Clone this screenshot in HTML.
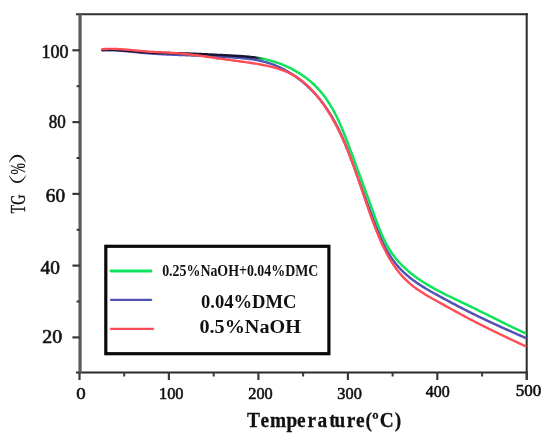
<!DOCTYPE html>
<html><head><meta charset="utf-8">
<style>
html,body{margin:0;padding:0;background:#fff;}
body{width:550px;height:438px;overflow:hidden;position:relative;}
svg{position:absolute;left:0;top:0;filter:blur(0.35px);}
.t{font-family:"Liberation Serif","Times New Roman",serif;fill:#111;}
.n{stroke:#111;stroke-width:0.6px;}
.m{stroke:#111;stroke-width:0.3px;}
</style></head><body>
<svg width="550" height="438" viewBox="0 0 550 438">
<defs>
<linearGradient id="gg" gradientUnits="userSpaceOnUse" x1="100" y1="0" x2="526" y2="0">
<stop offset="0" stop-color="#161634"/>
<stop offset="0.364" stop-color="#161634"/>
<stop offset="0.385" stop-color="#0ee35a"/>
<stop offset="1" stop-color="#0ee35a"/>
</linearGradient>
</defs>
<line x1="76" y1="14.3" x2="527.7" y2="14.3" stroke="#2e2e2e" stroke-width="2"/>
<line x1="526.7" y1="13.3" x2="526.7" y2="380" stroke="#2a2a2a" stroke-width="2"/>
<line x1="76" y1="372.6" x2="527.7" y2="372.6" stroke="#2a2a2a" stroke-width="2"/>
<line x1="80.05" y1="13.3" x2="80.05" y2="373.4" stroke="#5a5a5a" stroke-width="3.2"/>
<line x1="72.4" y1="50.3" x2="80" y2="50.3" stroke="#3a3a3a" stroke-width="2.2"/>
<line x1="72.4" y1="122.1" x2="80" y2="122.1" stroke="#3a3a3a" stroke-width="2.2"/>
<line x1="72.4" y1="193.9" x2="80" y2="193.9" stroke="#3a3a3a" stroke-width="2.2"/>
<line x1="72.4" y1="265.6" x2="80" y2="265.6" stroke="#3a3a3a" stroke-width="2.2"/>
<line x1="72.4" y1="337.4" x2="80" y2="337.4" stroke="#3a3a3a" stroke-width="2.2"/>
<line x1="76.5" y1="86.2" x2="80" y2="86.2" stroke="#3a3a3a" stroke-width="2"/>
<line x1="76.5" y1="158.0" x2="80" y2="158.0" stroke="#3a3a3a" stroke-width="2"/>
<line x1="76.5" y1="229.8" x2="80" y2="229.8" stroke="#3a3a3a" stroke-width="2"/>
<line x1="76.5" y1="301.5" x2="80" y2="301.5" stroke="#3a3a3a" stroke-width="2"/>
<line x1="79.5" y1="372.6" x2="79.5" y2="380" stroke="#3a3a3a" stroke-width="2.2"/>
<line x1="168.9" y1="372.6" x2="168.9" y2="380" stroke="#3a3a3a" stroke-width="2.2"/>
<line x1="258.4" y1="372.6" x2="258.4" y2="380" stroke="#3a3a3a" stroke-width="2.2"/>
<line x1="347.9" y1="372.6" x2="347.9" y2="380" stroke="#3a3a3a" stroke-width="2.2"/>
<line x1="437.3" y1="372.6" x2="437.3" y2="380" stroke="#3a3a3a" stroke-width="2.2"/>
<line x1="526.8" y1="372.6" x2="526.8" y2="380" stroke="#3a3a3a" stroke-width="2.2"/>
<line x1="124.2" y1="372.6" x2="124.2" y2="376.5" stroke="#3a3a3a" stroke-width="2"/>
<line x1="213.7" y1="372.6" x2="213.7" y2="376.5" stroke="#3a3a3a" stroke-width="2"/>
<line x1="303.1" y1="372.6" x2="303.1" y2="376.5" stroke="#3a3a3a" stroke-width="2"/>
<line x1="392.6" y1="372.6" x2="392.6" y2="376.5" stroke="#3a3a3a" stroke-width="2"/>
<line x1="482.1" y1="372.6" x2="482.1" y2="376.5" stroke="#3a3a3a" stroke-width="2"/>
<path d="M102.50,50.31 L104.00,50.25 L105.50,50.20 L107.00,50.18 L108.50,50.17 L110.00,50.18 L111.50,50.20 L112.99,50.25 L114.49,50.30 L115.98,50.37 L117.48,50.45 L118.97,50.55 L120.47,50.65 L121.96,50.76 L123.45,50.89 L124.94,51.01 L126.44,51.15 L127.93,51.29 L129.42,51.44 L130.91,51.59 L132.40,51.74 L133.89,51.90 L135.39,52.05 L136.88,52.21 L138.37,52.36 L139.86,52.51 L141.36,52.66 L142.85,52.81 L144.34,52.95 L145.84,53.08 L147.33,53.21 L148.83,53.33 L150.33,53.44 L151.82,53.55 L153.32,53.66 L154.82,53.75 L156.32,53.85 L157.81,53.93 L159.31,54.02 L160.81,54.10 L162.31,54.17 L163.81,54.25 L165.31,54.32 L166.80,54.38 L168.30,54.45 L169.80,54.51 L171.30,54.57 L172.79,54.64 L174.29,54.70 L175.78,54.76 L177.28,54.82 L178.77,54.88 L180.26,54.93 L181.76,54.99 L183.25,55.06 L184.74,55.12 L186.23,55.18 L187.72,55.24 L189.22,55.30 L190.71,55.36 L192.20,55.42 L193.69,55.49 L195.18,55.55 L196.67,55.61 L198.16,55.68 L199.66,55.74 L201.15,55.81 L202.64,55.87 L204.14,55.94 L205.63,56.01 L207.12,56.08 L208.62,56.15 L210.12,56.22 L211.61,56.29 L213.11,56.37 L214.61,56.44 L216.11,56.52 L217.61,56.59 L219.12,56.67 L220.62,56.75 L222.13,56.83 L223.63,56.91 L225.14,57.00 L226.65,57.08 L228.16,57.17 L229.68,57.25 L231.19,57.34 L232.71,57.44 L234.22,57.53 L235.74,57.64 L237.26,57.74 L238.78,57.86 L240.29,57.98 L241.81,58.11 L243.32,58.25 L244.83,58.40 L246.34,58.56 L247.84,58.74 L249.34,58.92 L250.84,59.12 L252.33,59.34 L253.82,59.57 L255.30,59.82 L256.78,60.09 L258.25,60.37 L259.71,60.68 L261.17,61.01 L262.62,61.35 L264.07,61.72 L265.50,62.12 L266.93,62.53 L268.35,62.97 L269.76,63.43 L271.16,63.91 L272.55,64.42 L273.93,64.94 L275.31,65.49 L276.68,66.06 L278.03,66.65 L279.38,67.25 L280.72,67.88 L282.05,68.53 L283.37,69.20 L284.68,69.89 L285.98,70.59 L287.27,71.32 L288.55,72.06 L289.82,72.82 L291.08,73.60 L292.33,74.40 L293.57,75.21 L294.80,76.04 L296.02,76.89 L297.22,77.76 L298.42,78.64 L299.60,79.53 L300.78,80.45 L301.94,81.38 L303.09,82.32 L304.23,83.28 L305.35,84.25 L306.47,85.24 L307.57,86.24 L308.66,87.26 L309.74,88.29 L310.81,89.33 L311.86,90.39 L312.91,91.46 L313.93,92.54 L314.95,93.64 L315.95,94.74 L316.94,95.86 L317.92,96.99 L318.88,98.13 L319.83,99.29 L320.77,100.45 L321.69,101.62 L322.60,102.81 L323.50,104.00 L324.38,105.20 L325.25,106.42 L326.10,107.64 L326.94,108.87 L327.77,110.11 L328.58,111.36 L329.39,112.62 L330.18,113.88 L330.95,115.16 L331.72,116.44 L332.47,117.73 L333.22,119.02 L333.95,120.32 L334.67,121.63 L335.38,122.95 L336.08,124.27 L336.77,125.60 L337.45,126.94 L338.12,128.28 L338.79,129.62 L339.44,130.98 L340.08,132.33 L340.72,133.69 L341.35,135.06 L341.97,136.43 L342.58,137.81 L343.19,139.18 L343.79,140.57 L344.38,141.95 L344.97,143.34 L345.55,144.74 L346.12,146.13 L346.69,147.53 L347.25,148.93 L347.81,150.33 L348.37,151.74 L348.91,153.15 L349.46,154.56 L350.00,155.97 L350.54,157.38 L351.07,158.79 L351.60,160.20 L352.13,161.62 L352.65,163.03 L353.17,164.44 L353.69,165.86 L354.21,167.27 L354.72,168.68 L355.24,170.10 L355.75,171.51 L356.26,172.92 L356.78,174.33 L357.29,175.74 L357.80,177.15 L358.30,178.56 L358.81,179.97 L359.32,181.37 L359.83,182.78 L360.33,184.19 L360.84,185.59 L361.35,187.00 L361.85,188.40 L362.36,189.81 L362.87,191.21 L363.37,192.62 L363.88,194.02 L364.39,195.42 L364.90,196.83 L365.41,198.23 L365.92,199.63 L366.44,201.03 L366.95,202.43 L367.47,203.83 L367.99,205.23 L368.50,206.63 L369.03,208.03 L369.55,209.43 L370.07,210.83 L370.60,212.23 L371.13,213.62 L371.66,215.02 L372.20,216.42 L372.73,217.81 L373.27,219.21 L373.82,220.61 L374.36,222.00 L374.91,223.40 L375.46,224.79 L376.02,226.19 L376.58,227.58 L377.14,228.98 L377.71,230.37 L378.28,231.77 L378.85,233.16 L379.43,234.55 L380.01,235.95 L380.60,237.33 L381.20,238.72 L381.81,240.10 L382.43,241.48 L383.05,242.85 L383.69,244.21 L384.34,245.56 L385.01,246.91 L385.69,248.24 L386.39,249.57 L387.10,250.88 L387.83,252.18 L388.58,253.46 L389.35,254.73 L390.14,255.99 L390.95,257.23 L391.78,258.45 L392.64,259.66 L393.51,260.85 L394.40,262.02 L395.32,263.18 L396.25,264.32 L397.20,265.45 L398.17,266.56 L399.16,267.65 L400.17,268.73 L401.19,269.80 L402.23,270.84 L403.29,271.88 L404.37,272.89 L405.46,273.89 L406.57,274.88 L407.69,275.85 L408.83,276.80 L409.98,277.74 L411.15,278.66 L412.33,279.57 L413.53,280.47 L414.74,281.35 L415.96,282.21 L417.19,283.06 L418.44,283.90 L419.69,284.73 L420.95,285.55 L422.23,286.35 L423.51,287.15 L424.80,287.94 L426.09,288.72 L427.39,289.48 L428.70,290.25 L430.01,291.00 L431.33,291.75 L432.65,292.50 L433.97,293.23 L435.29,293.97 L436.62,294.70 L437.95,295.42 L439.27,296.15 L440.60,296.87 L441.92,297.59 L443.25,298.31 L444.57,299.03 L445.90,299.74 L447.22,300.45 L448.54,301.17 L449.87,301.87 L451.19,302.58 L452.51,303.28 L453.84,303.98 L455.16,304.68 L456.48,305.38 L457.81,306.07 L459.13,306.76 L460.46,307.45 L461.79,308.14 L463.11,308.82 L464.44,309.50 L465.77,310.18 L467.11,310.86 L468.44,311.53 L469.77,312.20 L471.11,312.86 L472.45,313.53 L473.79,314.19 L475.13,314.85 L476.47,315.50 L477.81,316.15 L479.16,316.80 L480.50,317.45 L481.85,318.10 L483.20,318.74 L484.55,319.38 L485.90,320.02 L487.25,320.66 L488.61,321.29 L489.96,321.92 L491.32,322.55 L492.68,323.18 L494.04,323.81 L495.40,324.44 L496.76,325.06 L498.12,325.68 L499.48,326.30 L500.85,326.92 L502.21,327.54 L503.58,328.16 L504.95,328.78 L506.31,329.39 L507.68,330.01 L509.05,330.62 L510.42,331.23 L511.80,331.84 L513.17,332.45 L514.54,333.06 L515.92,333.67 L517.29,334.28 L518.67,334.89 L520.05,335.50 L521.42,336.11 L522.80,336.72 L524.18,337.33 L525.56,337.94" fill="none" stroke="#5252b6" stroke-width="2.5" stroke-linecap="round"/>
<path d="M102.50,49.96 L104.00,49.88 L105.50,49.82 L107.00,49.78 L108.49,49.77 L109.99,49.77 L111.48,49.78 L112.98,49.82 L114.47,49.86 L115.96,49.93 L117.46,50.00 L118.95,50.09 L120.44,50.18 L121.93,50.29 L123.43,50.41 L124.92,50.53 L126.41,50.65 L127.90,50.79 L129.39,50.92 L130.89,51.06 L132.38,51.20 L133.87,51.35 L135.36,51.49 L136.86,51.62 L138.35,51.76 L139.84,51.89 L141.33,52.02 L142.83,52.14 L144.32,52.25 L145.82,52.36 L147.31,52.45 L148.81,52.54 L150.31,52.61 L151.80,52.68 L153.30,52.75 L154.80,52.80 L156.30,52.85 L157.80,52.89 L159.29,52.93 L160.79,52.97 L162.29,53.00 L163.79,53.03 L165.29,53.05 L166.79,53.08 L168.28,53.10 L169.78,53.12 L171.28,53.15 L172.77,53.17 L174.27,53.20 L175.77,53.23 L177.26,53.26 L178.76,53.29 L180.25,53.33 L181.74,53.37 L183.24,53.41 L184.73,53.45 L186.22,53.50 L187.71,53.55 L189.20,53.60 L190.70,53.66 L192.19,53.71 L193.68,53.77 L195.17,53.83 L196.66,53.89 L198.15,53.95 L199.64,54.02 L201.14,54.08 L202.63,54.15 L204.12,54.22 L205.61,54.29 L207.11,54.36 L208.60,54.43 L210.10,54.51 L211.59,54.58 L213.09,54.65 L214.58,54.73 L216.08,54.81 L217.58,54.88 L219.07,54.96 L220.57,55.04 L222.07,55.12 L223.57,55.19 L225.08,55.27 L226.58,55.35 L228.08,55.43 L229.59,55.50 L231.10,55.58 L232.60,55.66 L234.11,55.74 L235.62,55.82 L237.13,55.91 L238.64,56.00 L240.15,56.10 L241.65,56.20 L243.16,56.31 L244.67,56.43 L246.17,56.56 L247.68,56.69 L249.18,56.84 L250.68,57.00 L252.18,57.17 L253.67,57.35 L255.17,57.55 L256.66,57.76 L258.14,57.99 L259.63,58.24 L261.11,58.50 L262.58,58.78 L264.06,59.08 L265.52,59.40 L266.99,59.74 L268.45,60.10 L269.90,60.48 L271.35,60.88 L272.79,61.29 L274.23,61.73 L275.65,62.19 L277.08,62.66 L278.49,63.16 L279.90,63.67 L281.30,64.20 L282.69,64.76 L284.07,65.33 L285.45,65.92 L286.81,66.52 L288.17,67.15 L289.52,67.80 L290.85,68.46 L292.18,69.14 L293.49,69.84 L294.79,70.56 L296.09,71.30 L297.37,72.05 L298.63,72.83 L299.89,73.62 L301.13,74.43 L302.36,75.25 L303.58,76.10 L304.78,76.96 L305.97,77.84 L307.15,78.74 L308.31,79.65 L309.45,80.59 L310.58,81.54 L311.69,82.50 L312.79,83.49 L313.87,84.49 L314.94,85.51 L315.99,86.54 L317.02,87.60 L318.03,88.67 L319.02,89.75 L320.00,90.85 L320.96,91.97 L321.90,93.11 L322.82,94.26 L323.73,95.43 L324.62,96.61 L325.49,97.80 L326.35,99.01 L327.19,100.24 L328.01,101.47 L328.82,102.72 L329.62,103.98 L330.40,105.25 L331.17,106.54 L331.92,107.83 L332.66,109.14 L333.39,110.45 L334.11,111.78 L334.81,113.11 L335.50,114.45 L336.18,115.80 L336.86,117.16 L337.52,118.53 L338.17,119.90 L338.81,121.28 L339.44,122.67 L340.06,124.06 L340.68,125.46 L341.29,126.86 L341.89,128.26 L342.48,129.67 L343.06,131.08 L343.64,132.50 L344.21,133.92 L344.78,135.34 L345.34,136.76 L345.90,138.19 L346.45,139.61 L347.00,141.04 L347.54,142.46 L348.08,143.89 L348.62,145.31 L349.15,146.73 L349.68,148.15 L350.21,149.57 L350.74,150.99 L351.27,152.40 L351.80,153.81 L352.32,155.22 L352.84,156.63 L353.36,158.04 L353.89,159.44 L354.40,160.84 L354.92,162.24 L355.44,163.64 L355.96,165.04 L356.47,166.43 L356.98,167.83 L357.50,169.22 L358.01,170.61 L358.52,172.00 L359.03,173.39 L359.54,174.78 L360.05,176.17 L360.56,177.56 L361.07,178.95 L361.58,180.34 L362.09,181.73 L362.60,183.12 L363.10,184.51 L363.61,185.90 L364.12,187.29 L364.63,188.68 L365.13,190.07 L365.64,191.46 L366.15,192.85 L366.66,194.24 L367.16,195.64 L367.67,197.03 L368.18,198.43 L368.69,199.83 L369.20,201.22 L369.71,202.62 L370.22,204.03 L370.73,205.43 L371.24,206.84 L371.75,208.25 L372.27,209.66 L372.78,211.07 L373.30,212.48 L373.81,213.90 L374.33,215.32 L374.85,216.74 L375.37,218.17 L375.89,219.59 L376.42,221.02 L376.95,222.44 L377.48,223.87 L378.02,225.29 L378.57,226.71 L379.13,228.12 L379.69,229.54 L380.26,230.94 L380.85,232.35 L381.44,233.74 L382.04,235.13 L382.66,236.51 L383.28,237.89 L383.93,239.25 L384.58,240.61 L385.25,241.95 L385.94,243.29 L386.64,244.61 L387.36,245.92 L388.09,247.21 L388.85,248.50 L389.62,249.76 L390.42,251.02 L391.23,252.25 L392.07,253.47 L392.93,254.68 L393.80,255.87 L394.70,257.04 L395.62,258.19 L396.56,259.33 L397.51,260.45 L398.49,261.56 L399.48,262.65 L400.49,263.73 L401.51,264.79 L402.55,265.84 L403.61,266.87 L404.68,267.88 L405.77,268.88 L406.87,269.87 L407.99,270.84 L409.11,271.80 L410.26,272.75 L411.41,273.68 L412.57,274.59 L413.75,275.49 L414.94,276.38 L416.13,277.26 L417.34,278.12 L418.56,278.97 L419.79,279.81 L421.02,280.64 L422.27,281.46 L423.52,282.27 L424.79,283.06 L426.06,283.85 L427.34,284.62 L428.62,285.39 L429.91,286.15 L431.21,286.90 L432.52,287.64 L433.83,288.37 L435.15,289.09 L436.47,289.81 L437.80,290.52 L439.13,291.23 L440.47,291.93 L441.81,292.62 L443.16,293.30 L444.51,293.99 L445.86,294.66 L447.21,295.33 L448.57,296.00 L449.93,296.67 L451.29,297.33 L452.66,297.99 L454.02,298.64 L455.38,299.29 L456.75,299.95 L458.11,300.59 L459.48,301.24 L460.84,301.89 L462.21,302.54 L463.57,303.18 L464.93,303.83 L466.29,304.48 L467.65,305.12 L469.00,305.77 L470.36,306.42 L471.70,307.08 L473.05,307.73 L474.40,308.38 L475.74,309.04 L477.08,309.70 L478.42,310.36 L479.75,311.02 L481.09,311.68 L482.42,312.34 L483.75,313.00 L485.09,313.66 L486.42,314.32 L487.75,314.99 L489.07,315.65 L490.40,316.31 L491.73,316.98 L493.06,317.64 L494.39,318.30 L495.72,318.97 L497.05,319.63 L498.38,320.29 L499.71,320.95 L501.05,321.62 L502.38,322.28 L503.72,322.93 L505.06,323.59 L506.39,324.25 L507.74,324.91 L509.08,325.56 L510.42,326.21 L511.77,326.87 L513.12,327.52 L514.48,328.16 L515.83,328.81 L517.19,329.45 L518.56,330.10 L519.93,330.74 L521.30,331.38 L522.67,332.01 L524.05,332.64 L525.43,333.28" fill="none" stroke="url(#gg)" stroke-width="2.5" stroke-linecap="round"/>
<path d="M102.50,49.19 L104.00,49.08 L105.49,48.99 L106.99,48.93 L108.49,48.89 L109.98,48.86 L111.48,48.86 L112.97,48.87 L114.46,48.91 L115.96,48.95 L117.45,49.01 L118.94,49.09 L120.43,49.17 L121.92,49.27 L123.41,49.38 L124.90,49.50 L126.39,49.62 L127.88,49.75 L129.37,49.89 L130.86,50.03 L132.35,50.17 L133.84,50.32 L135.33,50.46 L136.82,50.61 L138.31,50.76 L139.80,50.90 L141.29,51.04 L142.79,51.17 L144.28,51.30 L145.77,51.42 L147.27,51.53 L148.76,51.64 L150.26,51.74 L151.75,51.83 L153.25,51.91 L154.74,52.00 L156.24,52.08 L157.74,52.15 L159.23,52.22 L160.73,52.30 L162.23,52.37 L163.72,52.44 L165.22,52.52 L166.72,52.59 L168.21,52.67 L169.71,52.75 L171.20,52.84 L172.69,52.93 L174.18,53.03 L175.67,53.13 L177.16,53.25 L178.65,53.37 L180.14,53.50 L181.63,53.63 L183.11,53.77 L184.60,53.92 L186.08,54.08 L187.57,54.24 L189.05,54.40 L190.53,54.58 L192.02,54.75 L193.50,54.93 L194.98,55.12 L196.46,55.31 L197.94,55.50 L199.42,55.70 L200.90,55.90 L202.38,56.10 L203.86,56.31 L205.34,56.52 L206.82,56.73 L208.29,56.94 L209.77,57.15 L211.25,57.37 L212.73,57.58 L214.21,57.80 L215.69,58.01 L217.17,58.23 L218.65,58.45 L220.13,58.66 L221.61,58.87 L223.10,59.09 L224.58,59.30 L226.06,59.51 L227.54,59.71 L229.03,59.92 L230.51,60.12 L232.00,60.32 L233.49,60.52 L234.97,60.72 L236.46,60.91 L237.95,61.11 L239.44,61.31 L240.92,61.51 L242.41,61.71 L243.90,61.91 L245.39,62.12 L246.88,62.33 L248.37,62.54 L249.86,62.76 L251.34,62.98 L252.83,63.21 L254.32,63.45 L255.81,63.69 L257.29,63.94 L258.78,64.20 L260.26,64.47 L261.75,64.74 L263.23,65.03 L264.71,65.33 L266.19,65.63 L267.67,65.95 L269.15,66.29 L270.62,66.64 L272.09,67.00 L273.55,67.38 L275.00,67.77 L276.45,68.19 L277.88,68.62 L279.31,69.07 L280.73,69.54 L282.14,70.03 L283.54,70.55 L284.92,71.09 L286.29,71.65 L287.65,72.24 L288.99,72.85 L290.32,73.49 L291.63,74.16 L292.92,74.86 L294.19,75.59 L295.45,76.34 L296.69,77.13 L297.91,77.94 L299.12,78.77 L300.31,79.63 L301.48,80.52 L302.63,81.43 L303.77,82.36 L304.90,83.31 L306.00,84.29 L307.10,85.29 L308.18,86.30 L309.24,87.34 L310.29,88.39 L311.32,89.46 L312.34,90.55 L313.34,91.65 L314.34,92.77 L315.31,93.90 L316.28,95.05 L317.23,96.21 L318.17,97.38 L319.10,98.57 L320.01,99.76 L320.91,100.96 L321.80,102.18 L322.68,103.40 L323.54,104.63 L324.40,105.86 L325.24,107.10 L326.07,108.35 L326.90,109.61 L327.71,110.87 L328.51,112.14 L329.30,113.41 L330.08,114.69 L330.85,115.97 L331.61,117.26 L332.36,118.56 L333.10,119.86 L333.83,121.17 L334.55,122.48 L335.27,123.79 L335.97,125.12 L336.66,126.44 L337.35,127.77 L338.03,129.11 L338.70,130.45 L339.36,131.79 L340.02,133.14 L340.66,134.49 L341.30,135.85 L341.93,137.21 L342.56,138.57 L343.18,139.94 L343.79,141.31 L344.39,142.68 L344.99,144.06 L345.58,145.44 L346.16,146.82 L346.74,148.20 L347.31,149.59 L347.87,150.98 L348.44,152.37 L348.99,153.77 L349.54,155.16 L350.08,156.56 L350.62,157.96 L351.16,159.36 L351.69,160.77 L352.21,162.17 L352.73,163.58 L353.25,164.99 L353.76,166.39 L354.27,167.80 L354.78,169.21 L355.28,170.62 L355.78,172.04 L356.27,173.45 L356.76,174.86 L357.25,176.28 L357.74,177.69 L358.23,179.10 L358.71,180.52 L359.19,181.94 L359.67,183.35 L360.15,184.77 L360.63,186.18 L361.10,187.60 L361.58,189.02 L362.06,190.43 L362.53,191.85 L363.01,193.27 L363.48,194.68 L363.96,196.10 L364.43,197.51 L364.91,198.93 L365.39,200.34 L365.87,201.76 L366.35,203.17 L366.83,204.59 L367.32,206.00 L367.80,207.41 L368.29,208.82 L368.78,210.24 L369.28,211.65 L369.78,213.06 L370.28,214.46 L370.78,215.87 L371.29,217.28 L371.80,218.69 L372.31,220.09 L372.83,221.49 L373.36,222.90 L373.89,224.30 L374.42,225.70 L374.96,227.10 L375.51,228.49 L376.06,229.89 L376.61,231.28 L377.17,232.67 L377.74,234.07 L378.32,235.45 L378.90,236.84 L379.49,238.22 L380.08,239.60 L380.69,240.98 L381.30,242.35 L381.92,243.72 L382.55,245.08 L383.19,246.44 L383.85,247.79 L384.51,249.13 L385.18,250.47 L385.86,251.80 L386.55,253.12 L387.26,254.43 L387.97,255.74 L388.70,257.04 L389.44,258.32 L390.20,259.60 L390.97,260.87 L391.75,262.13 L392.54,263.37 L393.35,264.61 L394.18,265.83 L395.02,267.04 L395.88,268.24 L396.75,269.42 L397.63,270.59 L398.54,271.75 L399.46,272.89 L400.40,274.02 L401.36,275.13 L402.33,276.23 L403.32,277.31 L404.33,278.37 L405.37,279.42 L406.42,280.45 L407.49,281.46 L408.58,282.45 L409.69,283.43 L410.82,284.38 L411.97,285.32 L413.14,286.24 L414.32,287.15 L415.52,288.04 L416.74,288.91 L417.98,289.77 L419.22,290.61 L420.48,291.45 L421.75,292.27 L423.03,293.08 L424.32,293.88 L425.62,294.67 L426.93,295.45 L428.24,296.22 L429.56,296.99 L430.88,297.75 L432.21,298.50 L433.54,299.25 L434.87,299.99 L436.20,300.73 L437.53,301.47 L438.86,302.20 L440.19,302.94 L441.51,303.67 L442.83,304.40 L444.15,305.13 L445.47,305.86 L446.79,306.59 L448.10,307.31 L449.41,308.04 L450.72,308.76 L452.03,309.48 L453.34,310.20 L454.64,310.92 L455.95,311.64 L457.26,312.35 L458.56,313.07 L459.87,313.78 L461.18,314.49 L462.49,315.19 L463.79,315.90 L465.10,316.60 L466.41,317.30 L467.73,318.00 L469.04,318.69 L470.36,319.39 L471.68,320.07 L473.00,320.76 L474.32,321.45 L475.64,322.13 L476.97,322.81 L478.29,323.48 L479.62,324.16 L480.95,324.83 L482.29,325.50 L483.62,326.17 L484.96,326.84 L486.29,327.50 L487.63,328.17 L488.97,328.83 L490.31,329.49 L491.66,330.14 L493.00,330.80 L494.34,331.46 L495.69,332.11 L497.04,332.76 L498.39,333.41 L499.74,334.06 L501.09,334.71 L502.44,335.36 L503.79,336.00 L505.14,336.65 L506.50,337.29 L507.85,337.93 L509.20,338.58 L510.56,339.22 L511.92,339.86 L513.27,340.50 L514.63,341.14 L515.99,341.78 L517.35,342.42 L518.71,343.06 L520.06,343.70 L521.42,344.34 L522.78,344.98 L524.14,345.61 L525.50,346.25" fill="none" stroke="#ff4d55" stroke-width="2.4" stroke-linecap="round"/>
<text class="t n" x="41.51" y="58.20" font-size="18.30" textLength="27.07" lengthAdjust="spacingAndGlyphs" >100</text>
<text class="t n" x="48.65" y="127.70" font-size="18.30" textLength="16.99" lengthAdjust="spacingAndGlyphs" >80</text>
<text class="t n" x="45.77" y="201.60" font-size="18.30" textLength="19.26" lengthAdjust="spacingAndGlyphs" >60</text>
<text class="t n" x="40.62" y="274.20" font-size="18.30" textLength="19.31" lengthAdjust="spacingAndGlyphs" >40</text>
<text class="t n" x="42.22" y="342.50" font-size="18.30" textLength="19.94" lengthAdjust="spacingAndGlyphs" >20</text>
<text class="t n" x="76.18" y="399.40" font-size="16.80" textLength="9.44" lengthAdjust="spacingAndGlyphs" >0</text>
<text class="t n" x="158.96" y="398.90" font-size="16.80" textLength="24.56" lengthAdjust="spacingAndGlyphs" >100</text>
<text class="t n" x="248.28" y="398.90" font-size="16.80" textLength="24.44" lengthAdjust="spacingAndGlyphs" >200</text>
<text class="t n" x="337.32" y="398.90" font-size="16.80" textLength="24.50" lengthAdjust="spacingAndGlyphs" >300</text>
<text class="t n" x="425.79" y="397.20" font-size="16.80" textLength="24.02" lengthAdjust="spacingAndGlyphs" >400</text>
<text class="t n" x="515.81" y="395.60" font-size="16.80" textLength="25.54" lengthAdjust="spacingAndGlyphs" >500</text>
<text class="t" x="162.17" y="275.70" font-size="16.60" font-weight="bold" textLength="156.19" lengthAdjust="spacingAndGlyphs" >0.25%NaOH+0.04%DMC</text>
<text class="t" x="200.99" y="308.20" font-size="18.20" font-weight="bold" textLength="95.42" lengthAdjust="spacingAndGlyphs" >0.04%DMC</text>
<text class="t" x="199.53" y="332.70" font-size="18.20" font-weight="bold" textLength="101.30" lengthAdjust="spacingAndGlyphs" >0.5%NaOH</text>
<text class="t m" transform="scale(0.930,1)" x="265.53 280.24 290.37 308.05 319.38 330.60 341.40 354.05 359.71 372.96 382.72 393.08 400.34 408.26 424.40" y="427" font-size="20.8" font-weight="bold">Temperature(ºC)</text>
<g transform="translate(24.5,213.5) rotate(-90)"><text class="t m" font-size="21" x="0.04" y="0" textLength="19.1" lengthAdjust="spacingAndGlyphs">TG</text><text class="t" font-size="18" style="font-family:Noto Serif CJK SC,serif" transform="translate(34.1,0) scale(1.5,1)" x="-14.00" y="-0.3">（</text><text class="t m" font-size="20.5" x="39.04" y="0" textLength="11.32" lengthAdjust="spacingAndGlyphs">%</text><text class="t" font-size="18" style="font-family:Noto Serif CJK SC,serif" transform="translate(55.3,0) scale(1.5,1)" x="-4.00" y="-0.3">）</text></g>
<rect x="105.8" y="246.3" width="223.1" height="107.4" fill="none" stroke="#0a0a0a" stroke-width="3.2"/>
<line x1="111" y1="271" x2="151" y2="271" stroke="#0ee35a" stroke-width="2.8" stroke-linecap="round"/>
<line x1="110.9" y1="299.8" x2="151.2" y2="299.8" stroke="#5252b6" stroke-width="2.2" stroke-linecap="round"/>
<line x1="110.9" y1="328.9" x2="153.1" y2="328.9" stroke="#ff4d55" stroke-width="2.2" stroke-linecap="round"/>
</svg>
</body></html>
